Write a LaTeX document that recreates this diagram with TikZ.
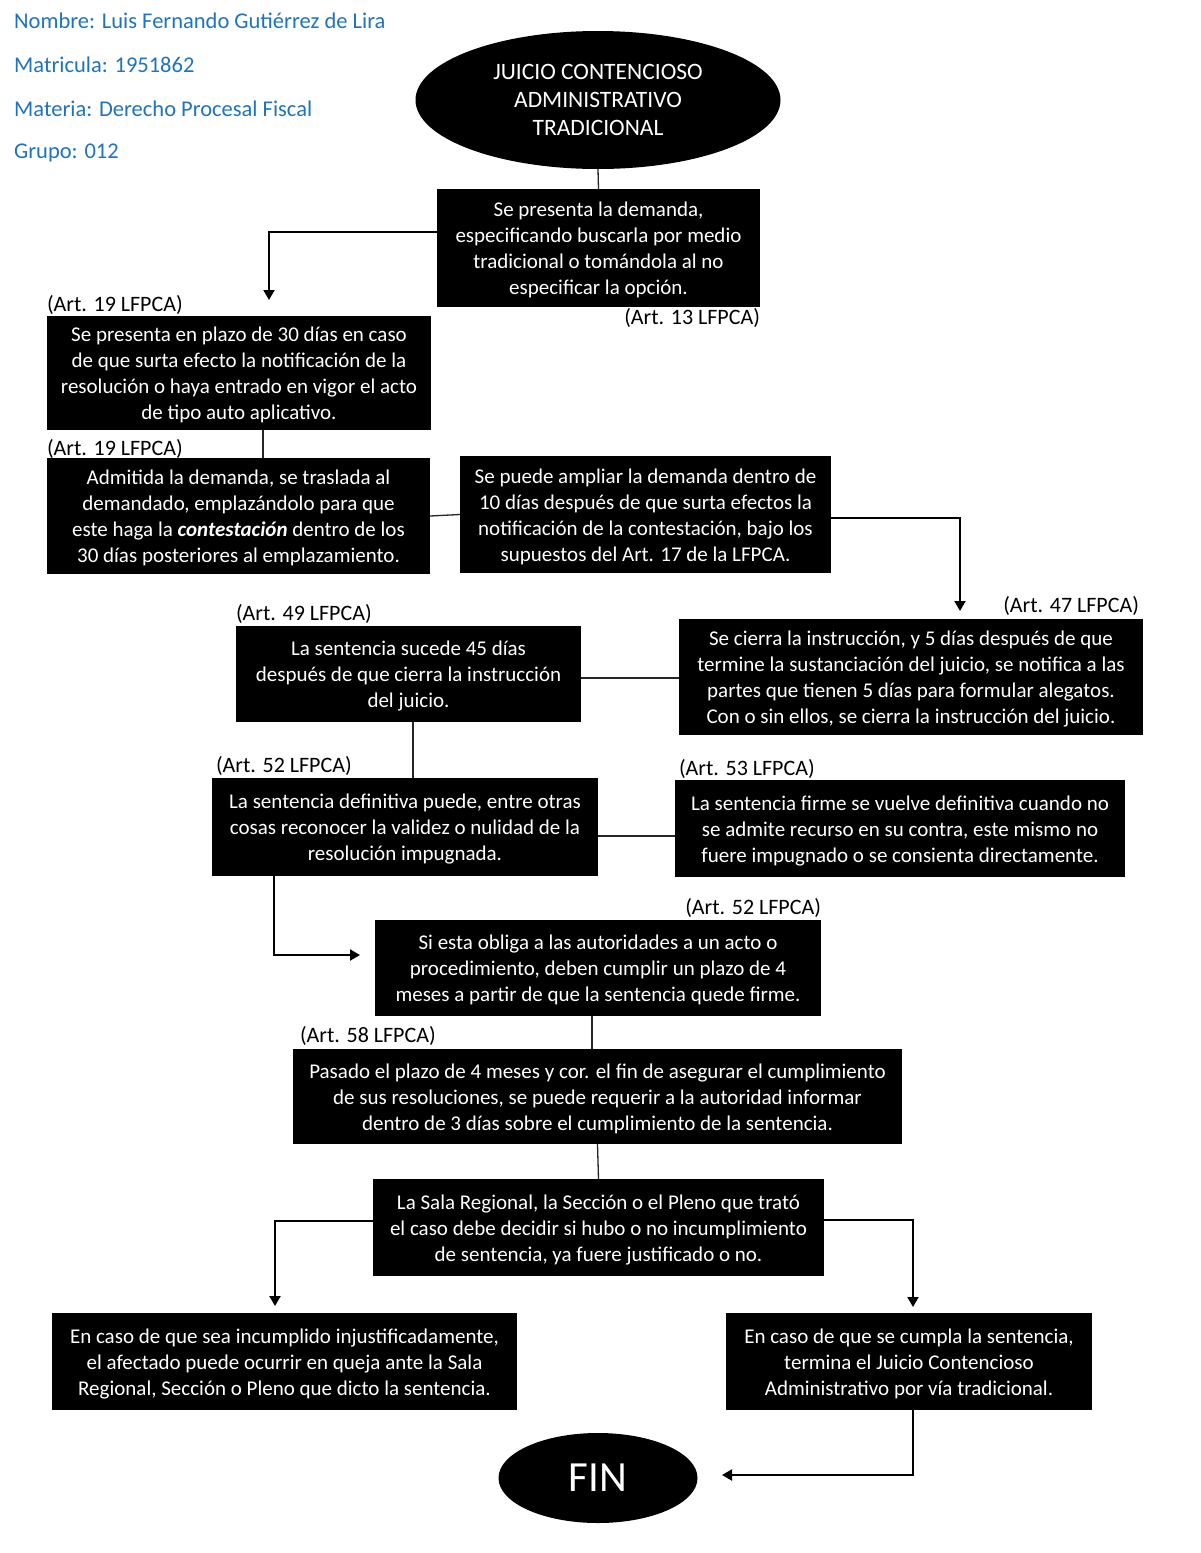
\documentclass[tikz,border=0pt]{standalone}
\usepackage{fontspec}
\setmainfont{Carlito}
\usetikzlibrary{arrows.meta,shapes.geometric,calc}
\definecolor{hdrblue}{RGB}{32,116,190}
\newcommand\boxtop{\rule{0pt}{22pt}}
\newcommand\boxbot{\rule[-6.5pt]{0pt}{6.5pt}}
\begin{document}
\begin{tikzpicture}[x=1pt,y=-1pt,
  box/.style={fill=black,text=white,inner sep=0pt,align=center,
    font=\fontsize{21}{26}\selectfont},
  oval/.style={ellipse,fill=black,text=white,inner sep=0pt,align=center},
  lbl/.style={inner sep=0pt,font=\fontsize{22}{24}\selectfont},
  hdr/.style={inner sep=0pt,anchor=west,text=hdrblue,font=\fontsize{22.5}{24}\selectfont},
  conn/.style={draw=black!85,line width=1.3pt},
  arr/.style={draw=black,line width=2pt,-{Triangle[width=11pt,length=10pt]}}]
\useasboundingbox[fill=white] (0,0) rectangle (1200,1553);

% header
\node[hdr] (h1) at (14,21) {Nombre: Luis Fernando Gutiérrez de Lira};
\node[hdr] (h2) at (14,65) {Matricula: 1951862};
\node[hdr] (h3) at (14,109) {Materia: Derecho Procesal Fiscal};
\node[hdr] (h4) at (14,153) {Grupo: 012};

% start ellipse
\node[oval,minimum width=365pt,minimum height=138pt,
  font=\fontsize{23.5}{28}\selectfont] (e1) at (598,100)
  {JUICIO CONTENCIOSO\\ADMINISTRATIVO\\TRADICIONAL};

% boxes
\node[box,minimum width=323pt,minimum height=118pt] (b1) at (598.5,248)
  {\boxtop Se presenta la demanda,\\especificando buscarla por medio\\tradicional o tomándola al no\\especificar la opción.\boxbot};
\node[box,minimum width=384pt,minimum height=114pt] (b2) at (239,373)
  {\boxtop Se presenta en plazo de 30 días en caso\\de que surta efecto la notificación de la\\resolución o haya entrado en vigor el acto\\de tipo auto aplicativo.\boxbot};
\node[box,minimum width=383pt,minimum height=116pt] (b3) at (238.5,516)
  {\boxtop Admitida la demanda, se traslada al\\demandado, emplazándolo para que\\este haga la \textbf{\textit{contestación}} dentro de los\\30 días posteriores al emplazamiento.\boxbot};
\node[box,minimum width=371pt,minimum height=117pt] (b4) at (645.5,514.5)
  {\boxtop Se puede ampliar la demanda dentro de\\10 días después de que surta efectos la\\notificación de la contestación, bajo los\\supuestos del Art. 17 de la LFPCA.\boxbot};
\node[box,minimum width=464pt,minimum height=116pt] (b5) at (911,677)
  {\boxtop Se cierra la instrucción, y 5 días después de que\\termine la sustanciación del juicio, se notifica a las\\partes que tienen 5 días para formular alegatos.\\Con o sin ellos, se cierra la instrucción del juicio.\boxbot};
\node[box,minimum width=345pt,minimum height=96pt] (b6) at (408.5,674)
  {\boxtop La sentencia sucede 45 días\\después de que cierra la instrucción\\del juicio.\boxbot};
\node[box,minimum width=386pt,minimum height=98pt] (b7) at (405,827)
  {\boxtop La sentencia definitiva puede, entre otras\\cosas reconocer la validez o nulidad de la\\resolución impugnada.\boxbot};
\node[box,minimum width=450pt,minimum height=97pt] (b8) at (900,828.5)
  {\boxtop La sentencia firme se vuelve definitiva cuando no\\se admite recurso en su contra, este mismo no\\fuere impugnado o se consienta directamente.\boxbot};
\node[box,minimum width=446pt,minimum height=96pt] (b9) at (598,968)
  {\boxtop Si esta obliga a las autoridades a un acto o\\procedimiento, deben cumplir un plazo de 4\\meses a partir de que la sentencia quede firme.\boxbot};
\node[box,minimum width=609pt,minimum height=95pt] (b10) at (597.5,1096.5)
  {\boxtop Pasado el plazo de 4 meses y cor. el fin de asegurar el cumplimiento\\de sus resoluciones, se puede requerir a la autoridad informar\\dentro de 3 días sobre el cumplimiento de la sentencia.\boxbot};
\node[box,minimum width=451pt,minimum height=97pt] (b11) at (598.5,1227.5)
  {\boxtop La Sala Regional, la Sección o el Pleno que trató\\el caso debe decidir si hubo o no incumplimiento\\de sentencia, ya fuere justificado o no.\boxbot};
\node[box,minimum width=465pt,minimum height=97pt] (b12) at (284.5,1361.5)
  {\boxtop En caso de que sea incumplido injustificadamente,\\el afectado puede ocurrir en queja ante la Sala\\Regional, Sección o Pleno que dicto la sentencia.\boxbot};
\node[box,minimum width=366pt,minimum height=97pt] (b13) at (909,1361.5)
  {\boxtop En caso de que se cumpla la sentencia,\\termina el Juicio Contencioso\\Administrativo por vía tradicional.\boxbot};

% end ellipse
\node[oval,minimum width=199pt,minimum height=90pt,
  font=\fontsize{43}{45}\selectfont] (fin) at (598,1478) {FIN};

% article labels
\node[lbl,anchor=east] (l1) at ([yshift=-11pt]b1.south east) {(Art. 13 LFPCA)};
\node[lbl,anchor=west] (l2) at ([yshift=11pt]b2.north west) {(Art. 19 LFPCA)};
\node[lbl,anchor=west] (l3) at ([yshift=9pt]b3.north west) {(Art. 19 LFPCA)};
\node[lbl,anchor=west] (l6) at ([yshift=12pt]b6.north west) {(Art. 49 LFPCA)};
\node[lbl,anchor=east] (l5) at ([xshift=-4pt,yshift=13pt]b5.north east) {(Art. 47 LFPCA)};
\node[lbl,anchor=west] (l7) at ([xshift=4pt,yshift=12pt]b7.north west) {(Art. 52 LFPCA)};
\node[lbl,anchor=west] (l8) at ([xshift=4pt,yshift=11pt]b8.north west) {(Art. 53 LFPCA)};
\node[lbl,anchor=east] (l9) at ([yshift=12pt]b9.north east) {(Art. 52 LFPCA)};
\node[lbl,anchor=west] (l10) at ([xshift=7pt,yshift=13pt]b10.north west) {(Art. 58 LFPCA)};

% helper coordinates
\coordinate (a1) at (269,300);
\coordinate (a2) at (960,611);
\coordinate (a3) at (360,955);
\coordinate (a4) at (275,1306);
\coordinate (a5) at (913,1307);
\coordinate (a6) at (722,1475);
\coordinate (x1) at (263,0);
\coordinate (x2) at (413,0);
\coordinate (x3) at (274,0);
\coordinate (x4) at (592,0);
\coordinate (y1) at (0,836);
\coordinate (y2) at (0,678);

% connectors
\draw[conn] (e1.south) -- (b1.north);
\draw[arr] ([yshift=16pt]b1.west) -| (a1);
\draw[conn] (b2.south -| x1) -- (b3.north -| x1);
\draw[conn] (b3.east) -- (b4.west);
\draw[arr] ([yshift=-3pt]b4.east) -| (a2);
\draw[conn] (b6.east |- y2) -- (b5.west |- y2);
\draw[conn] (b6.south -| x2) -- (b7.north -| x2);
\draw[conn] (b7.east |- y1) -- (b8.west |- y1);
\draw[arr] (b7.south -| x3) |- (a3);
\draw[conn] (b9.south -| x4) -- (b10.north -| x4);
\draw[conn] (b10.south) -- (b11.north);
\draw[arr] ([yshift=7pt]b11.west) -| (a4);
\draw[arr] ([yshift=8pt]b11.east) -| (a5);
\draw[arr] (b13.south -| a5) |- (a6);
\end{tikzpicture}
\end{document}
